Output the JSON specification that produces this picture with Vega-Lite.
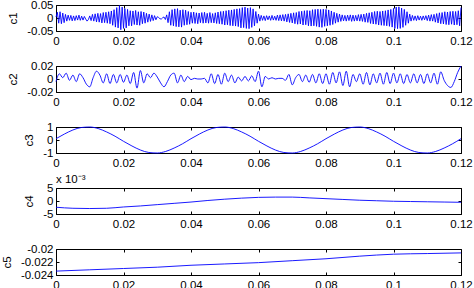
{
"$schema": "https://vega.github.io/schema/vega-lite/v6.json",
"autosize": {"type": "pad"},
"padding": {"left": 0, "top": -2, "right": 0, "bottom": 0},
"bounds": "flush",
"spacing": 35,
"config": {
  "view": {"stroke": "#000", "strokeWidth": 1},
  "font": "Liberation Sans",
  "axis": {"grid": false, "domain": false, "tickColor": "#000", "tickSize": -3, "labelColor": "#000", "labelFontSize": 11.5, "titleFontSize": 11.5, "titleFontWeight": "normal", "titleColor": "#000", "labelFont": "Liberation Sans", "titleFont": "Liberation Sans"},
  "axisX": {"labelFlush": false, "labelPadding": 7},
  "axisY": {"labelPadding": 6, "titlePadding": 8},
  "line": {"color": "#0000ff", "strokeWidth": 0.9}
},
"datasets": {
"c1": [
{"t":0,"v":0.004},{"t":0.0004,"v":0.022},{"t":0.0008,"v":-0.02},{"t":0.0012,"v":0.024},{"t":0.0016,"v":-0.022},{"t":0.002,"v":0.019},{"t":0.0024,"v":-0.018},{"t":0.0028,"v":0.014},{"t":0.0032,"v":-0.012},{"t":0.0036,"v":0.011},
{"t":0.004,"v":-0.009},{"t":0.0044,"v":0.01},{"t":0.0048,"v":-0.011},{"t":0.0052,"v":0.008},{"t":0.0056,"v":-0.01},{"t":0.006,"v":0.009},{"t":0.0064,"v":-0.008},{"t":0.0068,"v":0.011},{"t":0.0072,"v":-0.009},{"t":0.0076,"v":0.007},
{"t":0.008,"v":-0.008},{"t":0.0084,"v":0.006},{"t":0.0088,"v":-0.004},{"t":0.0092,"v":-0.012},{"t":0.0096,"v":-0.006},{"t":0.01,"v":0.008},{"t":0.0104,"v":-0.01},{"t":0.0108,"v":0.014},{"t":0.0112,"v":-0.012},{"t":0.0116,"v":0.016},
{"t":0.012,"v":-0.015},{"t":0.0124,"v":0.018},{"t":0.0128,"v":-0.016},{"t":0.0132,"v":0.017},{"t":0.0136,"v":-0.019},{"t":0.014,"v":0.021},{"t":0.0144,"v":-0.018},{"t":0.0148,"v":0.022},{"t":0.0152,"v":-0.02},{"t":0.0156,"v":0.024},
{"t":0.016,"v":-0.022},{"t":0.0164,"v":0.027},{"t":0.0168,"v":-0.028},{"t":0.0172,"v":0.032},{"t":0.0176,"v":-0.035},{"t":0.018,"v":0.04},{"t":0.0184,"v":-0.038},{"t":0.0188,"v":0.048},{"t":0.0192,"v":-0.045},{"t":0.0196,"v":0.042},
{"t":0.02,"v":-0.04},{"t":0.0204,"v":0.036},{"t":0.0208,"v":-0.038},{"t":0.0212,"v":0.033},{"t":0.0216,"v":-0.03},{"t":0.022,"v":0.028},{"t":0.0224,"v":-0.03},{"t":0.0228,"v":0.027},{"t":0.0232,"v":-0.025},{"t":0.0236,"v":0.029},
{"t":0.024,"v":-0.027},{"t":0.0244,"v":0.024},{"t":0.0248,"v":-0.028},{"t":0.0252,"v":0.025},{"t":0.0256,"v":-0.022},{"t":0.026,"v":0.023},{"t":0.0264,"v":-0.02},{"t":0.0268,"v":0.018},{"t":0.0272,"v":-0.016},{"t":0.0276,"v":0.015},
{"t":0.028,"v":-0.013},{"t":0.0284,"v":0.012},{"t":0.0288,"v":-0.01},{"t":0.0292,"v":0.009},{"t":0.0296,"v":-0.007},{"t":0.03,"v":0.005},{"t":0.0304,"v":0.002},{"t":0.0308,"v":-0.003},{"t":0.0312,"v":-0.004},{"t":0.0316,"v":0.001},
{"t":0.032,"v":0.004},{"t":0.0324,"v":-0.006},{"t":0.0328,"v":0.012},{"t":0.0332,"v":-0.018},{"t":0.0336,"v":0.024},{"t":0.034,"v":-0.028},{"t":0.0344,"v":0.032},{"t":0.0348,"v":-0.03},{"t":0.0352,"v":0.035},{"t":0.0356,"v":-0.033},
{"t":0.036,"v":0.036},{"t":0.0364,"v":-0.034},{"t":0.0368,"v":0.03},{"t":0.0372,"v":-0.035},{"t":0.0376,"v":0.032},{"t":0.038,"v":-0.028},{"t":0.0384,"v":0.03},{"t":0.0388,"v":-0.026},{"t":0.0392,"v":0.025},{"t":0.0396,"v":-0.024},
{"t":0.04,"v":0.022},{"t":0.0404,"v":-0.02},{"t":0.0408,"v":0.023},{"t":0.0412,"v":-0.021},{"t":0.0416,"v":0.02},{"t":0.042,"v":-0.022},{"t":0.0424,"v":0.019},{"t":0.0428,"v":-0.018},{"t":0.0432,"v":0.021},{"t":0.0436,"v":-0.02},
{"t":0.044,"v":0.022},{"t":0.0444,"v":-0.019},{"t":0.0448,"v":0.018},{"t":0.0452,"v":-0.02},{"t":0.0456,"v":0.021},{"t":0.046,"v":-0.018},{"t":0.0464,"v":0.017},{"t":0.0468,"v":-0.019},{"t":0.0472,"v":0.02},{"t":0.0476,"v":-0.021},
{"t":0.048,"v":0.023},{"t":0.0484,"v":-0.022},{"t":0.0488,"v":0.025},{"t":0.0492,"v":-0.024},{"t":0.0496,"v":0.026},{"t":0.05,"v":-0.027},{"t":0.0504,"v":0.028},{"t":0.0508,"v":-0.026},{"t":0.0512,"v":0.03},{"t":0.0516,"v":-0.029},
{"t":0.052,"v":0.031},{"t":0.0524,"v":-0.03},{"t":0.0528,"v":0.033},{"t":0.0532,"v":-0.031},{"t":0.0536,"v":0.035},{"t":0.054,"v":-0.033},{"t":0.0544,"v":0.036},{"t":0.0548,"v":-0.038},{"t":0.0552,"v":0.04},{"t":0.0556,"v":-0.037},
{"t":0.056,"v":0.042},{"t":0.0564,"v":-0.04},{"t":0.0568,"v":0.038},{"t":0.0572,"v":-0.041},{"t":0.0576,"v":0.04},{"t":0.058,"v":-0.036},{"t":0.0584,"v":0.035},{"t":0.0588,"v":-0.03},{"t":0.0592,"v":0.025},{"t":0.0596,"v":-0.02},
{"t":0.06,"v":0.015},{"t":0.0604,"v":-0.012},{"t":0.0608,"v":0.01},{"t":0.0612,"v":-0.009},{"t":0.0616,"v":0.008},{"t":0.062,"v":-0.01},{"t":0.0624,"v":0.009},{"t":0.0628,"v":-0.007},{"t":0.0632,"v":0.008},{"t":0.0636,"v":-0.009},
{"t":0.064,"v":0.01},{"t":0.0644,"v":-0.008},{"t":0.0648,"v":0.007},{"t":0.0652,"v":-0.009},{"t":0.0656,"v":0.011},{"t":0.066,"v":-0.01},{"t":0.0664,"v":0.012},{"t":0.0668,"v":-0.011},{"t":0.0672,"v":0.013},{"t":0.0676,"v":-0.012},
{"t":0.068,"v":0.014},{"t":0.0684,"v":-0.015},{"t":0.0688,"v":0.016},{"t":0.0692,"v":-0.017},{"t":0.0696,"v":0.018},{"t":0.07,"v":-0.019},{"t":0.0704,"v":0.02},{"t":0.0708,"v":-0.022},{"t":0.0712,"v":0.021},{"t":0.0716,"v":-0.024},
{"t":0.072,"v":0.025},{"t":0.0724,"v":-0.023},{"t":0.0728,"v":0.026},{"t":0.0732,"v":-0.027},{"t":0.0736,"v":0.028},{"t":0.074,"v":-0.026},{"t":0.0744,"v":0.029},{"t":0.0748,"v":-0.03},{"t":0.0752,"v":0.028},{"t":0.0756,"v":-0.031},
{"t":0.076,"v":0.032},{"t":0.0764,"v":-0.03},{"t":0.0768,"v":0.033},{"t":0.0772,"v":-0.032},{"t":0.0776,"v":0.034},{"t":0.078,"v":-0.035},{"t":0.0784,"v":0.033},{"t":0.0788,"v":-0.036},{"t":0.0792,"v":0.034},{"t":0.0796,"v":-0.032},
{"t":0.08,"v":0.033},{"t":0.0804,"v":-0.03},{"t":0.0808,"v":0.031},{"t":0.0812,"v":-0.028},{"t":0.0816,"v":0.027},{"t":0.082,"v":-0.025},{"t":0.0824,"v":0.022},{"t":0.0828,"v":-0.02},{"t":0.0832,"v":0.018},{"t":0.0836,"v":-0.016},
{"t":0.084,"v":0.015},{"t":0.0844,"v":-0.013},{"t":0.0848,"v":0.012},{"t":0.0852,"v":-0.011},{"t":0.0856,"v":0.01},{"t":0.086,"v":-0.012},{"t":0.0864,"v":0.011},{"t":0.0868,"v":-0.01},{"t":0.0872,"v":0.012},{"t":0.0876,"v":-0.013},
{"t":0.088,"v":0.011},{"t":0.0884,"v":-0.012},{"t":0.0888,"v":0.01},{"t":0.0892,"v":-0.011},{"t":0.0896,"v":0.013},{"t":0.09,"v":-0.012},{"t":0.0904,"v":0.014},{"t":0.0908,"v":-0.013},{"t":0.0912,"v":0.015},{"t":0.0916,"v":-0.016},
{"t":0.092,"v":0.018},{"t":0.0924,"v":-0.017},{"t":0.0928,"v":0.02},{"t":0.0932,"v":-0.021},{"t":0.0936,"v":0.022},{"t":0.094,"v":-0.023},{"t":0.0944,"v":0.025},{"t":0.0948,"v":-0.024},{"t":0.0952,"v":0.026},{"t":0.0956,"v":-0.027},
{"t":0.096,"v":0.025},{"t":0.0964,"v":-0.028},{"t":0.0968,"v":0.027},{"t":0.0972,"v":-0.029},{"t":0.0976,"v":0.028},{"t":0.098,"v":-0.03},{"t":0.0984,"v":0.031},{"t":0.0988,"v":-0.032},{"t":0.0992,"v":0.033},{"t":0.0996,"v":-0.035},
{"t":0.1,"v":0.037},{"t":0.1004,"v":-0.04},{"t":0.1008,"v":0.042},{"t":0.1012,"v":-0.041},{"t":0.1016,"v":0.043},{"t":0.102,"v":-0.04},{"t":0.1024,"v":0.038},{"t":0.1028,"v":-0.036},{"t":0.1032,"v":0.033},{"t":0.1036,"v":-0.028},
{"t":0.104,"v":0.024},{"t":0.1044,"v":-0.02},{"t":0.1048,"v":0.015},{"t":0.1052,"v":-0.012},{"t":0.1056,"v":0.01},{"t":0.106,"v":-0.009},{"t":0.1064,"v":0.008},{"t":0.1068,"v":-0.01},{"t":0.1072,"v":0.009},{"t":0.1076,"v":-0.008},
{"t":0.108,"v":0.007},{"t":0.1084,"v":-0.009},{"t":0.1088,"v":0.008},{"t":0.1092,"v":-0.007},{"t":0.1096,"v":0.009},{"t":0.11,"v":-0.01},{"t":0.1104,"v":0.011},{"t":0.1108,"v":-0.012},{"t":0.1112,"v":0.013},{"t":0.1116,"v":-0.012},
{"t":0.112,"v":0.014},{"t":0.1124,"v":-0.016},{"t":0.1128,"v":0.017},{"t":0.1132,"v":-0.019},{"t":0.1136,"v":0.02},{"t":0.114,"v":-0.022},{"t":0.1144,"v":0.021},{"t":0.1148,"v":-0.023},{"t":0.1152,"v":0.024},{"t":0.1156,"v":-0.025},
{"t":0.116,"v":0.023},{"t":0.1164,"v":-0.026},{"t":0.1168,"v":0.025},{"t":0.1172,"v":-0.024},{"t":0.1176,"v":0.026},{"t":0.118,"v":-0.027},{"t":0.1184,"v":0.025},{"t":0.1188,"v":-0.026},{"t":0.1192,"v":0.028},{"t":0.1196,"v":-0.03},
{"t":0.12,"v":0.04}
],
"c2": [
{"t":0,"v":-0.004},{"t":0.001,"v":0.008},{"t":0.002,"v":0.002},{"t":0.003,"v":0.009},{"t":0.004,"v":-0.002},{"t":0.005,"v":0.006},{"t":0.006,"v":-0.004},{"t":0.007,"v":0.008},{"t":0.008,"v":0.002},{"t":0.009,"v":-0.008},
{"t":0.01,"v":-0.012},{"t":0.011,"v":0.002},{"t":0.012,"v":0.012},{"t":0.013,"v":0.006},{"t":0.014,"v":-0.006},{"t":0.015,"v":0.008},{"t":0.016,"v":-0.007},{"t":0.017,"v":0.007},{"t":0.018,"v":-0.006},{"t":0.019,"v":0.007},
{"t":0.02,"v":-0.005},{"t":0.021,"v":0.006},{"t":0.022,"v":-0.007},{"t":0.023,"v":0.01},{"t":0.024,"v":-0.014},{"t":0.025,"v":0.013},{"t":0.026,"v":-0.006},{"t":0.027,"v":0.008},{"t":0.028,"v":0.002},{"t":0.029,"v":0.009},
{"t":0.03,"v":0.003},{"t":0.031,"v":-0.006},{"t":0.032,"v":-0.012},{"t":0.033,"v":-0.004},{"t":0.034,"v":0.006},{"t":0.035,"v":0.009},{"t":0.036,"v":-0.006},{"t":0.037,"v":0.006},{"t":0.038,"v":-0.004},{"t":0.039,"v":0.004},
{"t":0.04,"v":-0.001},{"t":0.041,"v":0.001},{"t":0.042,"v":0},{"t":0.043,"v":0},{"t":0.044,"v":0.001},{"t":0.045,"v":-0.006},{"t":0.046,"v":0.008},{"t":0.047,"v":-0.007},{"t":0.048,"v":0.007},{"t":0.049,"v":-0.008},
{"t":0.05,"v":0.009},{"t":0.051,"v":-0.004},{"t":0.052,"v":0.006},{"t":0.053,"v":-0.006},{"t":0.054,"v":0.003},{"t":0.055,"v":-0.003},{"t":0.056,"v":0.004},{"t":0.057,"v":-0.003},{"t":0.058,"v":0.005},{"t":0.059,"v":-0.004},
{"t":0.06,"v":0.012},{"t":0.061,"v":-0.012},{"t":0.062,"v":0.004},{"t":0.063,"v":0},{"t":0.064,"v":0.002},{"t":0.065,"v":0},{"t":0.066,"v":0.001},{"t":0.067,"v":0.001},{"t":0.068,"v":-0.002},{"t":0.069,"v":0.007},
{"t":0.07,"v":-0.009},{"t":0.071,"v":0.002},{"t":0.072,"v":0.007},{"t":0.073,"v":-0.004},{"t":0.074,"v":0.006},{"t":0.075,"v":-0.005},{"t":0.076,"v":0.007},{"t":0.077,"v":-0.006},{"t":0.078,"v":0.008},{"t":0.079,"v":-0.007},
{"t":0.08,"v":0.008},{"t":0.081,"v":-0.008},{"t":0.082,"v":0.01},{"t":0.083,"v":-0.006},{"t":0.084,"v":0.011},{"t":0.085,"v":-0.01},{"t":0.086,"v":0.012},{"t":0.087,"v":-0.012},{"t":0.088,"v":0.007},{"t":0.089,"v":-0.004},
{"t":0.09,"v":0.008},{"t":0.091,"v":-0.008},{"t":0.092,"v":0.01},{"t":0.093,"v":-0.009},{"t":0.094,"v":0.008},{"t":0.095,"v":-0.006},{"t":0.096,"v":0.009},{"t":0.097,"v":-0.008},{"t":0.098,"v":0.01},{"t":0.099,"v":-0.007},
{"t":0.1,"v":0.009},{"t":0.101,"v":-0.006},{"t":0.102,"v":0.008},{"t":0.103,"v":-0.007},{"t":0.104,"v":0.007},{"t":0.105,"v":-0.006},{"t":0.106,"v":0.008},{"t":0.107,"v":-0.006},{"t":0.108,"v":0.007},{"t":0.109,"v":-0.007},
{"t":0.11,"v":0.008},{"t":0.111,"v":-0.006},{"t":0.112,"v":0.009},{"t":0.113,"v":-0.008},{"t":0.114,"v":0.011},{"t":0.115,"v":-0.002},{"t":0.116,"v":-0.01},{"t":0.117,"v":-0.013},{"t":0.118,"v":-0.004},{"t":0.119,"v":0.01},
{"t":0.12,"v":0.02}
],
"c3": [
{"t":0,"v":0.1},{"t":0.0025,"v":0.46},{"t":0.005,"v":0.77},{"t":0.0075,"v":0.96},{"t":0.01,"v":1},{"t":0.0125,"v":0.88},{"t":0.015,"v":0.62},{"t":0.0175,"v":0.29},
{"t":0.02,"v":-0.1},{"t":0.0225,"v":-0.46},{"t":0.025,"v":-0.77},{"t":0.0275,"v":-0.96},{"t":0.03,"v":-1},{"t":0.0325,"v":-0.88},{"t":0.035,"v":-0.62},{"t":0.0375,"v":-0.29},
{"t":0.04,"v":0.1},{"t":0.0425,"v":0.46},{"t":0.045,"v":0.77},{"t":0.0475,"v":0.96},{"t":0.05,"v":1},{"t":0.0525,"v":0.88},{"t":0.055,"v":0.62},{"t":0.0575,"v":0.29},
{"t":0.06,"v":-0.1},{"t":0.0625,"v":-0.46},{"t":0.065,"v":-0.77},{"t":0.0675,"v":-0.96},{"t":0.07,"v":-1},{"t":0.0725,"v":-0.88},{"t":0.075,"v":-0.62},{"t":0.0775,"v":-0.29},
{"t":0.08,"v":0.1},{"t":0.0825,"v":0.46},{"t":0.085,"v":0.77},{"t":0.0875,"v":0.96},{"t":0.09,"v":1},{"t":0.0925,"v":0.88},{"t":0.095,"v":0.62},{"t":0.0975,"v":0.29},
{"t":0.1,"v":-0.1},{"t":0.1025,"v":-0.46},{"t":0.105,"v":-0.77},{"t":0.1075,"v":-0.96},{"t":0.11,"v":-1},{"t":0.1125,"v":-0.88},{"t":0.115,"v":-0.62},{"t":0.1175,"v":-0.29},
{"t":0.12,"v":0.1}
],
"c4": [
{"t":0,"v":-0.0024},{"t":0.005,"v":-0.0028},{"t":0.01,"v":-0.0029},{"t":0.015,"v":-0.0028},{"t":0.02,"v":-0.0023},{"t":0.025,"v":-0.0019},{"t":0.03,"v":-0.0014},{"t":0.035,"v":-0.0009},{"t":0.04,"v":-0.0004},{"t":0.045,"v":0.0002},
{"t":0.05,"v":0.0007},{"t":0.055,"v":0.0011},{"t":0.06,"v":0.0014},{"t":0.065,"v":0.0015},{"t":0.07,"v":0.0015},{"t":0.075,"v":0.0012},{"t":0.08,"v":0.0009},{"t":0.085,"v":0.0006},{"t":0.09,"v":0.0003},{"t":0.095,"v":0.0001},
{"t":0.1,"v":-0.0001},{"t":0.105,"v":-0.0002},{"t":0.11,"v":-0.0003},{"t":0.115,"v":-0.0004},{"t":0.12,"v":-0.0005}
],
"c5": [
{"t":0,"v":-0.0234},{"t":0.01,"v":-0.0232},{"t":0.02,"v":-0.023},{"t":0.03,"v":-0.0228},{"t":0.04,"v":-0.0225},{"t":0.05,"v":-0.0223},{"t":0.06,"v":-0.0221},{"t":0.07,"v":-0.0218},{"t":0.08,"v":-0.0215},{"t":0.09,"v":-0.0211},{"t":0.1,"v":-0.0208},{"t":0.11,"v":-0.0207},{"t":0.12,"v":-0.0206}
]
},
"vconcat": [
{"width": 405, "height": 26, "data": {"name": "c1"},
 "layer": [
  {"mark": {"type": "line"}, "encoding": {
   "x": {"field": "t", "type": "quantitative", "scale": {"domain": [0, 0.12], "nice": false}, "axis": {"orient": "bottom", "values": [0,0.02,0.04,0.06,0.08,0.1,0.12], "labelExpr": "'' + datum.value", "title": null}},
   "y": {"field": "v", "type": "quantitative", "scale": {"domain": [-0.05, 0.05], "nice": false, "zero": false}, "axis": {"orient": "left", "values": [-0.05,0,0.05], "labelExpr": "'' + datum.value", "title": "c1"}}}},
  {"mark": {"type": "line", "strokeOpacity": 0}, "encoding": {
   "x": {"field": "t", "type": "quantitative", "axis": {"orient": "top", "values": [0,0.02,0.04,0.06,0.08,0.1,0.12], "labels": false, "title": null}},
   "y": {"field": "v", "type": "quantitative", "axis": {"orient": "right", "values": [-0.05,0,0.05], "labels": false, "title": null}}}}
 ],
 "resolve": {"axis": {"x": "independent", "y": "independent"}}},
{"width": 405, "height": 26, "data": {"name": "c2"},
 "layer": [
  {"mark": {"type": "line", "interpolate": "monotone"}, "encoding": {
   "x": {"field": "t", "type": "quantitative", "scale": {"domain": [0, 0.12], "nice": false}, "axis": {"orient": "bottom", "values": [0,0.02,0.04,0.06,0.08,0.1,0.12], "labelExpr": "'' + datum.value", "title": null}},
   "y": {"field": "v", "type": "quantitative", "scale": {"domain": [-0.02, 0.02], "nice": false, "zero": false}, "axis": {"orient": "left", "values": [-0.02,0,0.02], "labelExpr": "'' + datum.value", "title": "c2"}}}},
  {"mark": {"type": "line", "strokeOpacity": 0}, "encoding": {
   "x": {"field": "t", "type": "quantitative", "axis": {"orient": "top", "values": [0,0.02,0.04,0.06,0.08,0.1,0.12], "labels": false, "title": null}},
   "y": {"field": "v", "type": "quantitative", "axis": {"orient": "right", "values": [-0.02,0,0.02], "labels": false, "title": null}}}}
 ],
 "resolve": {"axis": {"x": "independent", "y": "independent"}}},
{"width": 405, "height": 26, "data": {"name": "c3"},
 "layer": [
  {"mark": {"type": "line", "interpolate": "monotone"}, "encoding": {
   "x": {"field": "t", "type": "quantitative", "scale": {"domain": [0, 0.12], "nice": false}, "axis": {"orient": "bottom", "values": [0,0.02,0.04,0.06,0.08,0.1,0.12], "labelExpr": "'' + datum.value", "title": null}},
   "y": {"field": "v", "type": "quantitative", "scale": {"domain": [-1, 1], "nice": false, "zero": false}, "axis": {"orient": "left", "values": [-1,0,1], "labelExpr": "'' + datum.value", "title": "c3"}}}},
  {"mark": {"type": "line", "strokeOpacity": 0}, "encoding": {
   "x": {"field": "t", "type": "quantitative", "axis": {"orient": "top", "values": [0,0.02,0.04,0.06,0.08,0.1,0.12], "labels": false, "title": null}},
   "y": {"field": "v", "type": "quantitative", "axis": {"orient": "right", "values": [-1,0,1], "labels": false, "title": null}}}}
 ],
 "resolve": {"axis": {"x": "independent", "y": "independent"}}},
{"width": 405, "height": 26, "data": {"name": "c4"},
 "title": {"text": "x 10⁻³", "anchor": "start", "frame": "group", "fontSize": 11.5, "fontWeight": "normal", "font": "Liberation Sans", "color": "#000", "offset": -3},
 "layer": [
  {"mark": {"type": "line", "interpolate": "monotone"}, "encoding": {
   "x": {"field": "t", "type": "quantitative", "scale": {"domain": [0, 0.12], "nice": false}, "axis": {"orient": "bottom", "values": [0,0.02,0.04,0.06,0.08,0.1,0.12], "labelExpr": "'' + datum.value", "title": null}},
   "y": {"field": "v", "type": "quantitative", "scale": {"domain": [-0.005, 0.005], "nice": false, "zero": false}, "axis": {"orient": "left", "values": [-0.005,0,0.005], "labelExpr": "'' + round(datum.value * 1000)", "title": "c4"}}}},
  {"mark": {"type": "line", "strokeOpacity": 0}, "encoding": {
   "x": {"field": "t", "type": "quantitative", "axis": {"orient": "top", "values": [0,0.02,0.04,0.06,0.08,0.1,0.12], "labels": false, "title": null}},
   "y": {"field": "v", "type": "quantitative", "axis": {"orient": "right", "values": [-0.005,0,0.005], "labels": false, "title": null}}}}
 ],
 "resolve": {"axis": {"x": "independent", "y": "independent"}}},
{"width": 405, "height": 26, "data": {"name": "c5"},
 "layer": [
  {"mark": {"type": "line", "interpolate": "monotone"}, "encoding": {
   "x": {"field": "t", "type": "quantitative", "scale": {"domain": [0, 0.12], "nice": false}, "axis": {"orient": "bottom", "values": [0,0.02,0.04,0.06,0.08,0.1,0.12], "labelExpr": "'' + datum.value", "title": null}},
   "y": {"field": "v", "type": "quantitative", "scale": {"domain": [-0.024, -0.02], "nice": false, "zero": false}, "axis": {"orient": "left", "values": [-0.024,-0.022,-0.02], "labelExpr": "'' + datum.value", "title": "c5"}}}},
  {"mark": {"type": "line", "strokeOpacity": 0}, "encoding": {
   "x": {"field": "t", "type": "quantitative", "axis": {"orient": "top", "values": [0,0.02,0.04,0.06,0.08,0.1,0.12], "labels": false, "title": null}},
   "y": {"field": "v", "type": "quantitative", "axis": {"orient": "right", "values": [-0.024,-0.022,-0.02], "labels": false, "title": null}}}}
 ],
 "resolve": {"axis": {"x": "independent", "y": "independent"}}}
]
}
